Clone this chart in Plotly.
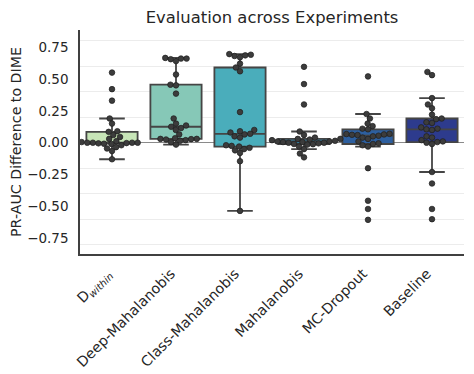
import math
import plotly.graph_objects as go
import numpy as np

# ---------------- data ----------------
CATEGORIES = ["D<sub><i>within</i></sub>", "Deep-Mahalanobis", "Class-Mahalanobis",
              "Mahalanobis", "MC-Dropout", "Baseline"]

D_WITHIN = [0.55, 0.42, 0.33, 0.19, 0.15, 0.09, 0.085, 0.06, 0.045, 0.03, 0.012, 0.005,
            0.0, 0.0, 0.0, 0.0, -0.003, -0.005, -0.008, -0.01, -0.02, -0.035, -0.045, -0.065, -0.13]
DEEP_MAHA = [0.665, 0.66, 0.66, 0.655, 0.64, 0.535, 0.455, 0.45, 0.385, 0.19, 0.15, 0.135,
             0.125, 0.115, 0.1, 0.065, 0.035, 0.03, 0.03, 0.028, 0.025, 0.02, 0.015, 0.005, -0.015]
CLASS_MAHA = [0.695, 0.69, 0.685, 0.68, 0.67, 0.62, 0.59, 0.56, 0.24, 0.1, 0.09, 0.08,
              0.07, 0.065, 0.05, 0.04, -0.02, -0.025, -0.03, -0.04, -0.05, -0.06, -0.08, -0.145, -0.535]
MAHA = [0.595, 0.46, 0.30, 0.088, 0.06, 0.04, 0.03, 0.03, 0.025, 0.02, 0.015, 0.01, 0.01,
        0.005, 0.005, 0.0, 0.0, -0.005, -0.01, -0.012, -0.015, -0.03, -0.05, -0.085, -0.115]
MC_DROPOUT = [0.52, 0.225, 0.19, 0.15, 0.13, 0.11, 0.105, 0.07, 0.068, 0.065, 0.062, 0.06,
              0.055, 0.05, 0.04, 0.03, 0.01, -0.005, -0.01, -0.02, -0.03, -0.2, -0.455, -0.52, -0.605]
BASELINE = [0.555, 0.53, 0.35, 0.3, 0.27, 0.22, 0.19, 0.185, 0.16, 0.155, 0.12, 0.11, 0.105,
            0.1, 0.05, 0.04, 0.02, 0.01, 0.005, 0.0, -0.01, -0.23, -0.32, -0.52, -0.6]

SERIES = [D_WITHIN, DEEP_MAHA, CLASS_MAHA, MAHA, MC_DROPOUT, BASELINE]

Y_TICKS = [-0.75, -0.5, -0.25, 0.0, 0.25, 0.5, 0.75]
Y_TICK_TEXT = ["\u22120.75", "\u22120.50", "\u22120.25", "0.00", "0.25", "0.50", "0.75"]
GRID_VALUES = [-0.8, -0.6, -0.4, -0.2, 0.2, 0.4, 0.6, 0.8]

# ---------------- style ----------------
COLORS = ["#c7e5b7", "#86c8b7", "#4aadbb", "#2c8bb4", "#2d5f9f", "#2d3b8d"]
LINE = "#454545"
TEXT = "#262626"
FONT = "DejaVu Sans"

W, H = 474, 374
ML, MR, MT, MB = 80, 10, 30, 120
Y_RANGE = [-0.873, 0.884]
X_RANGE = [-0.5, 5.5]
XSCALE = (W - ML - MR) / (X_RANGE[1] - X_RANGE[0])
YSCALE = (H - MT - MB) / (Y_RANGE[1] - Y_RANGE[0])
DOT = 5.6


def swarm_offsets(vals, d=DOT):
    """Beeswarm layout in pixel space; returns x offsets in data units."""
    vals = np.asarray(vals, dtype=float)
    order = np.argsort(vals, kind="stable")
    placed = []
    offs = np.zeros(len(vals))
    for idx in order:
        y = vals[idx] * YSCALE
        neigh = [(px, py) for px, py in placed if abs(py - y) < d]
        cands = [0.0]
        for px, py in neigh:
            dx = math.sqrt(max(d * d - (py - y) ** 2, 0.0))
            cands += [px - dx, px + dx]
        cands.sort(key=lambda c: (abs(c), c))
        chosen = cands[-1]
        for c in cands:
            if all((c - px) ** 2 + (y - py) ** 2 >= d * d - 1e-6 for px, py in neigh):
                chosen = c
                break
        placed.append((chosen, y))
        offs[idx] = chosen / XSCALE
    return offs


def box_stats(vals):
    a = np.sort(np.asarray(vals, dtype=float))
    q1, med, q3 = np.percentile(a, [25, 50, 75])
    iqr = q3 - q1
    lo = a[a >= q1 - 1.5 * iqr - 1e-12].min()
    hi = a[a <= q3 + 1.5 * iqr + 1e-12].max()
    return q1, med, q3, lo, hi


fig = go.Figure()

for i, vals in enumerate(SERIES):
    q1, med, q3, lo, hi = box_stats(vals)
    fig.add_trace(go.Box(
        x=[i], q1=[q1], median=[med], q3=[q3], lowerfence=[lo], upperfence=[hi],
        width=0.8, whiskerwidth=0.5,
        fillcolor=COLORS[i],
        line=dict(color=LINE, width=1.8),
        boxpoints=False, hoverinfo="skip", showlegend=False,
    ))

for i, vals in enumerate(SERIES):
    offs = swarm_offsets(vals)
    fig.add_trace(go.Scatter(
        x=i + offs, y=vals, mode="markers",
        marker=dict(size=DOT, color="#3c3c3c", line=dict(color="#1e1e1e", width=0.7)),
        showlegend=False, hoverinfo="skip",
    ))

fig.update_layout(
    width=W, height=H,
    margin=dict(l=ML, r=MR, t=MT, b=MB, autoexpand=False),
    paper_bgcolor="white", plot_bgcolor="white",
    boxmode="overlay",
    font=dict(family=FONT, color=TEXT, size=13.5),
    title=dict(text="Evaluation across Experiments", x=(ML + (W - ML - MR) / 2) / W,
               xanchor="center", y=1 - 17 / H, yanchor="middle",
               font=dict(size=16.4, family=FONT, color=TEXT)),
    xaxis=dict(
        range=X_RANGE, tickmode="array", tickvals=list(range(len(CATEGORIES))),
        ticktext=CATEGORIES, tickangle=-45, showgrid=False, zeroline=False,
        showline=True, linecolor="#404040", linewidth=1.6, automargin=False,
        ticks="outside", ticklen=4, tickcolor="rgba(0,0,0,0)",
        ticklabelshift=-5,
        tickfont=dict(size=14.2, family=FONT, color=TEXT),
    ),
    yaxis=dict(
        range=Y_RANGE, tickmode="array", tickvals=Y_TICKS, ticktext=Y_TICK_TEXT,
        showgrid=False, automargin=False,
        minor=dict(tickmode="array", tickvals=GRID_VALUES, showgrid=True,
                   gridcolor="#ececec", gridwidth=1, ticks=""),
        zeroline=True, zerolinecolor="#8a8a8a", zerolinewidth=1.2,
        showline=True, linecolor="#404040", linewidth=1.6,
        ticks="outside", ticklen=7, tickcolor="rgba(0,0,0,0)",
        tickfont=dict(size=13.5, family=FONT, color=TEXT),
        title=dict(text="PR-AUC Difference to DIME", standoff=2,
                   font=dict(size=14.2, family=FONT, color=TEXT)),
    ),
)

fig.write_html("out.html", config={"displayModeBar": False},
               post_script="document.body.style.margin='0';document.body.style.padding='0';")
